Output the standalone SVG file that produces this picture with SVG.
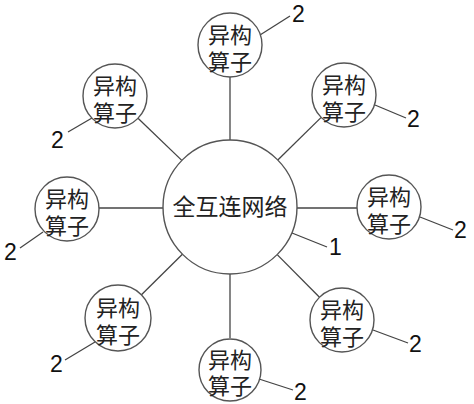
<svg xmlns="http://www.w3.org/2000/svg" width="474" height="404" viewBox="0 0 474 404">
<style>
.c{fill:#fff;stroke:#555;stroke-width:1.4}
.l{stroke:#444;stroke-width:1.3;fill:none}
.t{font-family:"Noto Sans CJK SC","Noto Sans",sans-serif;font-size:22px;fill:#222;text-anchor:middle}
.m{font-family:"Noto Sans CJK SC","Noto Sans",sans-serif;font-size:23px;fill:#222;text-anchor:middle}
.n{font-family:"Liberation Sans",Arial,sans-serif;font-size:23px;fill:#111}
</style>
<rect width="474" height="404" fill="#fff"/>
<g id="connectors" class="l">
<line x1="230" y1="140" x2="230" y2="77"/>
<line x1="277.8" y1="160" x2="321.2" y2="117.4"/>
<line x1="297" y1="208" x2="357" y2="208"/>
<line x1="277.2" y1="254.6" x2="319.5" y2="297.3"/>
<line x1="230" y1="274" x2="230" y2="338"/>
<line x1="182.4" y1="254.2" x2="140.7" y2="295.5"/>
<line x1="163" y1="208" x2="99" y2="208"/>
<line x1="181.8" y1="160.4" x2="138" y2="118.2"/>
<line x1="260" y1="35" x2="290" y2="16"/>
<line x1="375" y1="105" x2="406" y2="118"/>
<line x1="420" y1="217" x2="453" y2="230"/>
<line x1="373" y1="330" x2="408" y2="343"/>
<line x1="259" y1="379" x2="293" y2="390"/>
<line x1="95" y1="342" x2="65" y2="360"/>
<line x1="43" y1="232" x2="20" y2="248"/>
<line x1="92" y1="118" x2="68" y2="132"/>
<line x1="292" y1="233" x2="327" y2="247"/>
</g>
<g id="center"><circle class="c" cx="230" cy="207" r="67"/><text class="m" x="230" y="215">全互连网络</text><text class="n" x="329" y="255">1</text></g>
<g id="nT"><circle class="c" cx="230" cy="45" r="32"/><text class="t" x="230" y="43">异构<tspan x="230" dy="27">算子</tspan></text><text class="n" x="292" y="22">2</text></g>
<g id="nTR"><circle class="c" cx="344" cy="95" r="32"/><text class="t" x="344" y="93">异构<tspan x="344" dy="27">算子</tspan></text><text class="n" x="407" y="127">2</text></g>
<g id="nR"><circle class="c" cx="389" cy="207" r="32"/><text class="t" x="389" y="205">异构<tspan x="389" dy="27">算子</tspan></text><text class="n" x="454" y="238">2</text></g>
<g id="nBR"><circle class="c" cx="342" cy="320" r="32"/><text class="t" x="342" y="318">异构<tspan x="342" dy="27">算子</tspan></text><text class="n" x="409" y="352">2</text></g>
<g id="nB"><circle class="c" cx="230" cy="370" r="31"/><text class="t" x="230" y="368">异构<tspan x="230" dy="26">算子</tspan></text><text class="n" x="294" y="400">2</text></g>
<g id="nBL"><circle class="c" cx="118" cy="318" r="33"/><text class="t" x="118" y="316">异构<tspan x="118" dy="27">算子</tspan></text><text class="n" x="50" y="372">2</text></g>
<g id="nL"><circle class="c" cx="67" cy="209" r="32"/><text class="t" x="67" y="207">异构<tspan x="67" dy="27">算子</tspan></text><text class="n" x="4" y="260">2</text></g>
<g id="nTL"><circle class="c" cx="115" cy="96" r="32"/><text class="t" x="115" y="94">异构<tspan x="115" dy="27">算子</tspan></text><text class="n" x="51" y="148">2</text></g>
</svg>
